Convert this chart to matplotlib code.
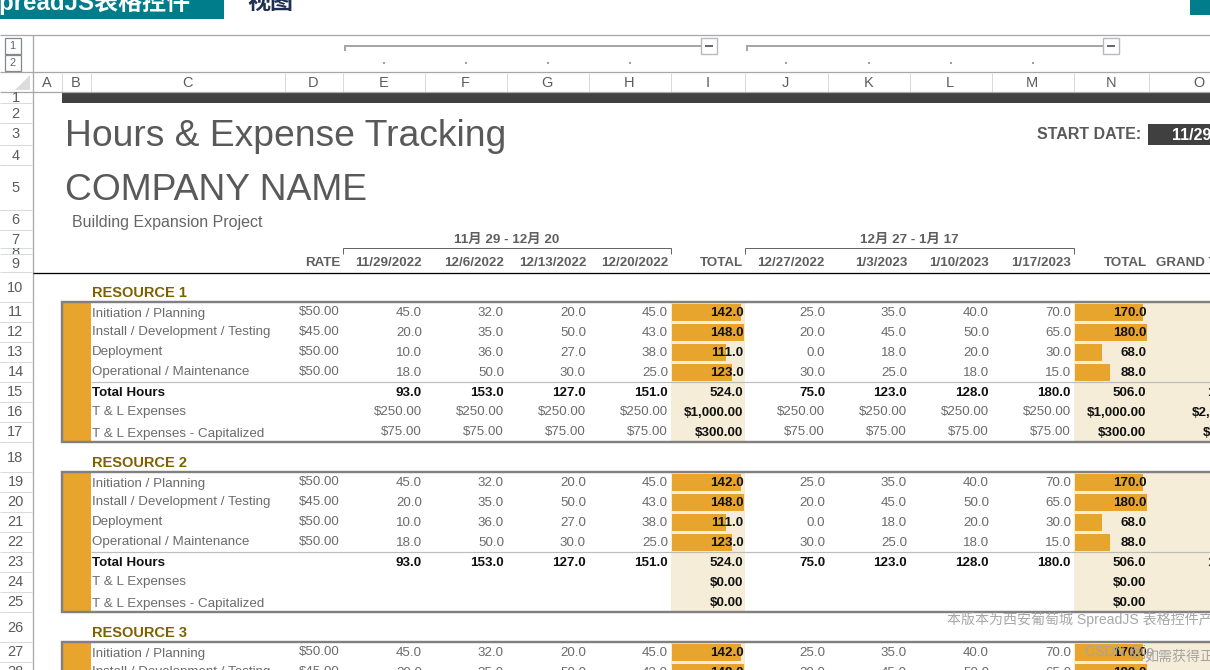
import matplotlib
matplotlib.use("Agg")
import matplotlib.pyplot as plt
from matplotlib.patches import Rectangle, Polygon

plt.rcParams['font.family'] = ['Liberation Sans', 'Noto Sans CJK SC', 'DejaVu Sans']

# ---------- data ----------
tasks = ["Initiation / Planning", "Install / Development / Testing", "Deployment", "Operational / Maintenance"]
rates = ["$50.00", "$45.00", "$50.00", "$50.00"]
period1_dates = ["11/29/2022", "12/6/2022", "12/13/2022", "12/20/2022"]
period2_dates = ["12/27/2022", "1/3/2023", "1/10/2023", "1/17/2023"]
period1_hours = [[45.0, 32.0, 20.0, 45.0], [20.0, 35.0, 50.0, 43.0], [10.0, 36.0, 27.0, 38.0], [18.0, 50.0, 30.0, 25.0]]
period2_hours = [[25.0, 35.0, 40.0, 70.0], [20.0, 45.0, 50.0, 65.0], [0.0, 18.0, 20.0, 30.0], [30.0, 25.0, 18.0, 15.0]]
period1_total = [142.0, 148.0, 111.0, 123.0]
period2_total = [170.0, 180.0, 68.0, 88.0]
total_hours_p1 = [93.0, 153.0, 127.0, 151.0]
total_hours_p2 = [75.0, 123.0, 128.0, 180.0]
sum_p1, sum_p2, grand_hours = 524.0, 506.0, 1030.0
resources = ["RESOURCE 1", "RESOURCE 2", "RESOURCE 3"]
col_letters = list("ABCDEFGHIJKLMNO")
expense_weekly = "$250.00"
capital_weekly = "$75.00"

# ---------- layout (screen pixels) ----------
W, H = 1210, 670
col_edges = [33, 62, 91, 285, 343, 425, 507, 589, 671, 745, 828, 910, 992, 1074, 1149, 1250]
row_edges = [92, 103, 123, 145, 165, 210, 230, 248, 254, 272, 302]
for blk in range(3):
    row_edges += [row_edges[-1] + 20 * (i + 1) for i in range(7)]
    row_edges.append(row_edges[-1] + 30)
row_edges = [r for r in row_edges if r < H + 30]

GREY, DARK, CREAM, GOLD, BOX = "#6b6b6b", "#404040", "#f6edd8", "#e8a52d", "#808080"
HEAD, BROWN, TEAL = "#5f5f5f", "#7f6000", "#007d8a"
BODY = 13.33

fig = plt.figure(figsize=(W / 100, H / 100), dpi=100)
ax = fig.add_axes([0, 0, 1, 1])
ax.set_xlim(0, W)
ax.set_ylim(H, 0)
ax.axis("off")


def T(x, y, s, px=BODY, color=GREY, ha="right", weight="normal", zorder=5, **kw):
    return ax.text(x, y, s, fontsize=px * 0.72, color=color, ha=ha, va="center",
                   fontweight=weight, zorder=zorder, clip_on=True, **kw)


def R(x0, y0, x1, y1, fc, zorder=1, **kw):
    ax.add_patch(Rectangle((x0, y0), x1 - x0, y1 - y0, fc=fc, ec="none", zorder=zorder, **kw))


def L(xs, ys, c, lw=1.0, zorder=3):
    ax.plot(xs, ys, color=c, lw=lw * 0.72, zorder=zorder, solid_capstyle="butt", solid_joinstyle="miter")


# ---------- top banner ----------
R(0, 0, 224, 19, TEAL)
R(1190, 0, 1210, 15, TEAL)
T(190, 2, "SpreadJS表格控件", px=24, color="white", weight="bold")
T(247, 2.5, "视图", px=23, color="#1f3050", ha="left", weight="bold")

# ---------- outline strip ----------
L([0, W], [35, 35], "#a8a8a8", 1.3)
L([0, W], [72, 72], "#a8a8a8", 1.3)
L([32.5, 32.5], [35, H], "#a8a8a8", 1.3)
for n, y0 in (("1", 38), ("2", 54.5)):
    ax.add_patch(Rectangle((5, y0), 15.5, 16, fc="white", ec="#808890", lw=0.9, zorder=3))
    T(12.7, y0 + 8, n, px=11, ha="center", color="#666666")
for x0, x1 in ((345, 701), (747, 1103)):
    L([x0, x0, x1], [51, 46, 46], "#a6a6a6", 2)
    ax.add_patch(Rectangle((x1, 38), 16, 16, fc="white", ec="#b8b8c4", lw=1.0, zorder=4))
    L([x1 + 4, x1 + 12], [46, 46], "#444444", 1.6, zorder=5)
for i in [4, 5, 6, 7, 9, 10, 11, 12]:
    xc = round((col_edges[i] + col_edges[i + 1]) / 2)
    R(xc - 1, 62, xc + 1, 64, "#a0a0a0")

# ---------- column / row headers ----------
ax.add_patch(Polygon([[30, 75], [30, 90], [15, 90]], closed=True, fc="#dcdcdc", ec="none", zorder=2))
for i, letter in enumerate(col_letters):
    T((col_edges[i] + min(col_edges[i + 1], 1254)) / 2 - 0.7, 83, letter, px=14.5, ha="center", color="#5c5c5c")
    L([col_edges[i + 1]] * 2, [73, 92], "#d4dcd4", 1)
L([0, W], [92, 92], "#a8a8a8", 1.3)
R(62, 93, W, 103, DARK)
for i in range(len(row_edges) - 1):
    y0, y1 = row_edges[i], row_edges[i + 1]
    L([0, 32], [y1, y1], "#d8dcd8", 1)
    t = T(15.5, (y0 + y1) / 2 + 0.5, str(i + 1), px=14.5, ha="center", color="#5c5c5c")
    t.set_clip_path(Rectangle((0, y0), 32, y1 - y0, transform=ax.transData))

# ---------- title area ----------
T(65, 136.5, "Hours & Expense Tracking", px=37.2, color="#595959", ha="left")
T(65, 190.5, "COMPANY NAME", px=37.2, color="#595959", ha="left")
T(72, 222, "Building Expansion Project", px=16, color="#666666", ha="left")
T(1141, 134.5, "START DATE:", px=16, color="#595959", weight="bold")
R(1148, 124, W, 145, DARK)
T(1172, 135, "11/29/2022", px=16, color="white", ha="left", weight="bold")

# ---------- period headers ----------
for x0, x1, s in ((343, 671, "11月 29 - 12月 20"), (745, 1074, "12月 27 - 1月 17")):
    T((x0 + x1) / 2, 239.5, s, color=HEAD, ha="center", weight="bold")
    L([x0, x0, x1, x1], [254, 248, 248, 254], "#666666", 1)

right = {c: col_edges[c + 1] - 3 for c in range(3, 14)}
right[8], right[13] = 743.5, 1146.5
right[14] = 1251.5
head_y = 263.5
T(right[3], head_y, "RATE", weight="bold", color=HEAD)
for j, d in enumerate(period1_dates):
    T(right[4 + j], head_y, d, weight="bold", color=HEAD)
T(right[8], head_y, "TOTAL", weight="bold", color=HEAD)
for j, d in enumerate(period2_dates):
    T(right[9 + j], head_y, d, weight="bold", color=HEAD)
T(right[13], head_y, "TOTAL", weight="bold", color=HEAD)
T(right[14], head_y, "GRAND TOTAL", weight="bold", color=HEAD)
L([33, W], [272.5, 272.5], "#000000", 1.3)

# ---------- resource blocks ----------
bar_scale_p1 = 72 / max(period1_total)
bar_scale_p2 = 72 / max(period2_total)
label_nudge = [1.5, 0, 0, 0]
for b, name in enumerate(resources):
    top = 302 + 170 * b
    T(92, top - 9, name, px=14.6, color=BROWN, ha="left", weight="bold")
    bot = top + 140
    R(671, top, 745, bot, CREAM)
    R(1074, top, W, bot, CREAM)
    R(62, top, 91, bot, GOLD, zorder=2)
    L([W + 5, 62, 62, W + 5], [top, top, bot, bot], BOX, 2.4, zorder=4)
    L([91, W], [top + 80, top + 80], "#bdbdbd", 1.2)
    for r in range(4):
        cy = top + 10.5 + 20 * r
        T(92, cy + label_nudge[r], tasks[r], ha="left")
        T(right[3], cy, rates[r])
        for j in range(4):
            T(right[4 + j], cy, f"{period1_hours[r][j]:.1f}")
            T(right[9 + j], cy, f"{period2_hours[r][j]:.1f}")
        ax.barh(cy, period1_total[r] * bar_scale_p1, height=17, left=672, color=GOLD, zorder=3)
        ax.barh(cy, period2_total[r] * bar_scale_p2, height=17, left=1075, color=GOLD, zorder=3)
        T(right[8], cy, f"{period1_total[r]:.1f}", color="#111111", weight="bold")
        T(right[13], cy, f"{period2_total[r]:.1f}", color="#111111", weight="bold")
    cy = top + 90.5
    T(92, cy, "Total Hours", ha="left", color="#111111", weight="bold")
    for j in range(4):
        T(right[4 + j], cy, f"{total_hours_p1[j]:.1f}", color="#111111", weight="bold")
        T(right[9 + j], cy, f"{total_hours_p2[j]:.1f}", color="#111111", weight="bold")
    T(right[8], cy, f"{sum_p1:.1f}", color="#111111", weight="bold")
    T(right[13], cy, f"{sum_p2:.1f}", color="#111111", weight="bold")
    T(right[14], cy, f"{grand_hours:,.1f}", color="#111111", weight="bold")
    T(92, top + 110.5, "T & L Expenses", ha="left")
    T(92, top + 132.5, "T & L Expenses - Capitalized", ha="left")
    for cy, val, tot, grand in ((top + 110.5, expense_weekly, "$1,000.00", "$2,000.00"),
                                (top + 130.5, capital_weekly, "$300.00", "$600.00")):
        if b == 1:
            T(right[8], cy, "$0.00", color="#111111", weight="bold")
            T(right[13], cy, "$0.00", color="#111111", weight="bold")
            continue
        for j in range(4):
            T(right[4 + j], cy, val)
            T(right[9 + j], cy, val)
        T(right[8], cy, tot, color="#111111", weight="bold")
        T(right[13], cy, tot, color="#111111", weight="bold")
        T(right[14], cy, grand, color="#111111", weight="bold")

# ---------- watermarks ----------
T(947, 619, "本版本为西安葡萄城 SpreadJS 表格控件产品", px=14, color="#a8a8a8", ha="left", zorder=8)
T(1085, 652, "CSDN @jo", px=14, color="#a4a4a4", ha="left", zorder=8)
T(1144, 657, "如需获得正式", px=14, color="#a4a4a4", ha="left", zorder=8)

fig.savefig("out.png", dpi=100)
